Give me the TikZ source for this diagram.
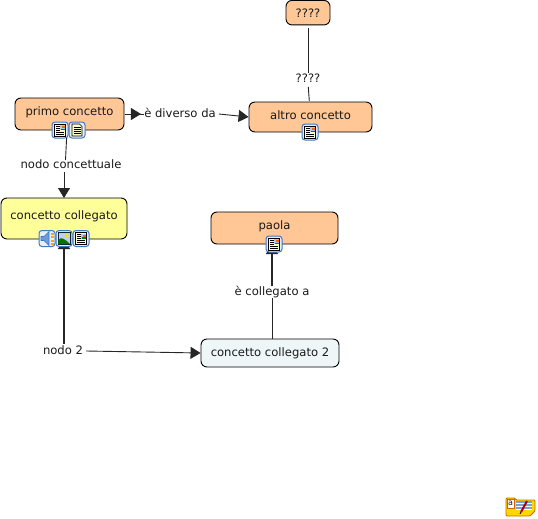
\documentclass[tikz,border=0pt]{standalone}
\usepackage{fontspec}
\setmainfont{DejaVu Sans}
\usetikzlibrary{arrows.meta}
\definecolor{peach}{HTML}{FFC795}
\definecolor{paleyellow}{HTML}{FFFF99}
\definecolor{paleblue}{HTML}{EEF6F7}
\definecolor{iconblue}{HTML}{3F78C4}
\definecolor{iconfill}{HTML}{E6EFFA}
\definecolor{pagey}{HTML}{FFFFCC}
\tikzset{
  concept/.style={draw=black,line width=0.9pt,rounded corners=6pt,inner sep=0pt,text height=9pt,align=center},
  peachbox/.style={concept,fill=peach},
  linklabel/.style={inner sep=0pt,text height=9pt,text depth=2pt},
  conn/.style={line width=0.9pt,draw=black!85},
  arr/.style={conn,-{Triangle[length=10pt,width=12pt]}},
  iconframe/.style={draw=iconblue,fill=iconfill,line width=1pt,rounded corners=3pt},
  pics/framebox/.style={code={\draw[iconframe] (-8,-8) rectangle (8,8);}},
  pics/docimg/.style={code={
    \draw[iconframe] (-8,-8) rectangle (8,8);
    \draw[fill=pagey,line width=0.7pt] (-5.5,-6) rectangle (5.5,6);
    \fill[white!60!iconblue] (0,-5) rectangle (5,0);
    \fill[orange!80!red] (2,-4) rectangle (4.5,-2);
    \fill[green!50!black] (0.5,-1.5) rectangle (4.5,0);
    \foreach \yy in {-4,-2,0}{\draw[line width=0.7pt] (-4,\yy) -- (-0.5,\yy);}
    \foreach \yy in {2,4}{\draw[line width=0.7pt] (-4,\yy) -- (4,\yy);}
  }},
  pics/docplain/.style={code={
    \draw[iconframe] (-8,-8) rectangle (8,8);
    \draw[fill=pagey,line width=0.7pt] (-5,-6) -- (2.5,-6) -- (5,-3.5) -- (5,6) -- (-5,6) -- cycle;
    \foreach \yy in {-3,-1,1,3}{\draw[line width=0.7pt] (-3.5,\yy) -- (3.5,\yy);}
  }},
  pics/speaker/.style={code={
    \draw[iconframe] (-8,-8) rectangle (8,8);
    \draw[fill=iconblue!75,draw=iconblue,line width=0.6pt] (-6,-2) -- (-3,-2) -- (2,-7) -- (2,7) -- (-3,2) -- (-6,2) -- cycle;
    \foreach \yy in {-5,-1.5,2,5.5}{\fill[orange!70!yellow] (4,\yy-1) rectangle (6.5,\yy+1);}
  }},
  pics/picture/.style={code={
    \draw[iconframe] (-8,-8) rectangle (8,8);
    \draw[fill=iconblue!35,draw=black!70!iconblue,line width=0.7pt] (-6,-6) rectangle (6,6);
    \fill[yellow!80!orange] (2.5,-2.8) circle (1.8);
    \fill[green!45!black] (-5.6,5.6) -- (-5.6,1.5) .. controls (-3,-2) and (0,0) .. (5.6,5) -- (5.6,5.6) -- cycle;
  }},
}
\begin{document}
\begin{tikzpicture}[x=1pt,y=-1pt,every node/.append style={font=\fontsize{11.6pt}{14pt}\selectfont,text=black!90}]
\useasboundingbox (0,0) rectangle (538,519);
% concepts
\node[peachbox,minimum width=44pt,minimum height=24.5pt,text height=11pt,text depth=1pt] (q) at (308,12.7) {????};
\node[peachbox,minimum width=109pt,minimum height=32pt,text depth=7pt] (primo) at (69.5,114) {primo concetto};
\node[peachbox,minimum width=123pt,minimum height=30pt,text depth=5pt] (altro) at (310.5,117) {altro concetto};
\node[concept,fill=paleyellow,minimum width=126pt,minimum height=41pt,text depth=7pt] (coll) at (64,218.5) {concetto collegato};
\node[peachbox,minimum width=127pt,minimum height=32pt,text depth=7pt] (paola) at (274.5,228) {paola};
\node[concept,fill=paleblue,minimum width=138pt,minimum height=28pt,text depth=2pt] (coll2) at (270,353) {concetto collegato 2};
% link labels
\node[linklabel] (lq) at (308,79) {????};
\node[linklabel] (ldiv) at (180,114) {è diverso da};
\node[linklabel] (lnodo) at (71,165) {nodo concettuale};
\node[linklabel] (lnodo2) at (63,351) {nodo 2};
\node[linklabel] (lcoll) at (272,292) {è collegato a};
% anchors on the node rims
\coordinate (pbot) at (67,130);
\coordinate (lnt) at (65.5,160);
\coordinate (lnb) at (64,172);
\coordinate (ct) at (64,198);
\coordinate (cb) at (64,239);
\coordinate (n2t) at (64,344);
\coordinate (pb) at (272,244);
\coordinate (c2t) at (272,339);
\coordinate (qb) at (308,28);
\coordinate (lqt) at (308,73);
\coordinate (lqb) at (308.3,87);
\coordinate (at) at (309.3,101);
% connectors
\draw[conn] (qb) -- (lqt);
\draw[conn] (lqb) -- (at);
\draw[conn] (primo.east) ++(1,0) -- (ldiv.west);
\draw[arr] (primo.east) ++(1,0) -- ++(15.5,0);
\draw[arr] (ldiv.east) ++(3,0) -- (altro.west);
\draw[conn] (pbot) -- (lnt);
\draw[arr] (lnb) -- (ct);
\draw[arr,line width=1.4pt] (n2t) -- (cb);
\draw[arr] (lnodo2.east) ++(3,0) -- (coll2.west);
\draw[conn] (c2t) -- (lcoll.south -| c2t);
\draw[arr,line width=1.2pt] (lcoll.north -| pb) -- (pb);
% resource icons
\pic at (60,130) {docimg};
\pic at (77,130) {docplain};
\pic at (310,132) {docimg};
\pic at (47,238.5) {speaker};
\pic at (64,238.5) {picture};
\pic at (81,238.5) {docimg};
\pic at (274,244) {docimg};
% note icon
\draw[fill=yellow!75!orange,draw=orange!80!black,line width=0.8pt,rounded corners=1pt] (506,498) -- (515,498) -- (516,500) -- (535,500) -- (535,511) -- (530,516) -- (506,516) -- cycle;
\draw[fill=white,draw=orange!80!black,line width=0.6pt] (507,499) rectangle (514,508);
\node[inner sep=0pt,font=\fontsize{8pt}{8pt}\selectfont] (notea) at (510.5,503) {a};
\fill[iconblue!70] (516,501) rectangle (532,510);
\foreach \yy in {503,506,509}{\draw[white,line width=0.6pt] (516,\yy) -- (532,\yy);}
\draw[red!70!black,line width=2pt] (521,512) -- (527,501);
\draw[black,line width=0.8pt] (521,512) -- (520,514);
\end{tikzpicture}
\end{document}
